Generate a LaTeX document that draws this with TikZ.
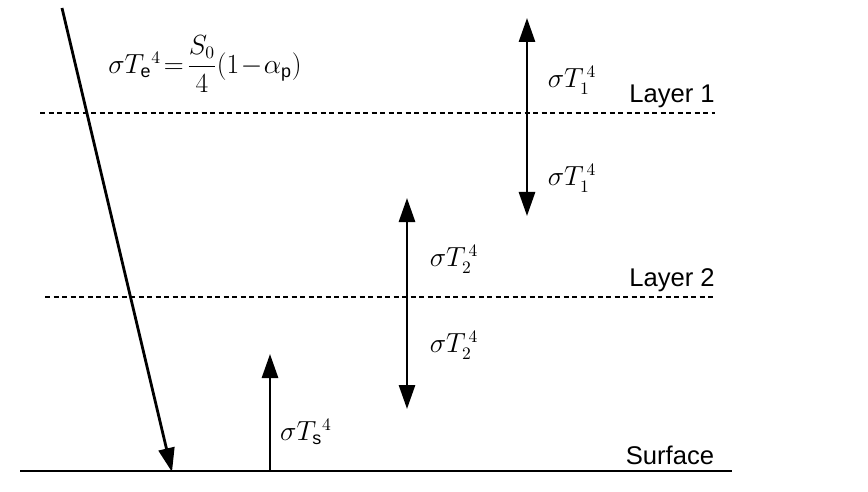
\documentclass[tikz,border=0pt]{standalone}
\usepackage{graphicx}
\usepackage{fontspec}
\setmainfont{Liberation Sans}
\usetikzlibrary{arrows.meta}
\newcommand{\bigtxt}[1]{\scalebox{1.6}{#1}}
\tikzset{
  arr/.style={line width=2.8pt,-{Triangle[length=24pt,width=16pt]}},
  lay/.style={line width=2.8pt,dash pattern=on 5pt off 3.5pt},
  lbl/.style={font=\fontsize{16}{19}\selectfont},
}
\begin{document}
\begin{tikzpicture}[x=1pt,y=-1pt]
\useasboundingbox (0,0) rectangle (868,492);
\coordinate (a0) at (62,8); \coordinate (a1) at (172,472);
\draw[arr] (a0) -- (a1);
\node[lbl] (eq) at (205,64) {\bigtxt{$\sigma T_{\mathrm e}{}^4\!=\!\displaystyle\frac{S_0}{4}(1\!-\!\alpha_{\mathrm p})$}};
\coordinate (l1a) at (40,113); \coordinate (l1b) at (715,113);
\draw[lay] (l1a) -- (l1b);
\node[lbl] (L1) at (672,96) {\bigtxt{Layer 1}};
\coordinate (c1) at (527,113); \coordinate (u1) at (527,18); \coordinate (d1) at (527,216);
\draw[arr] (c1) -- (u1); \draw[arr] (c1) -- (d1);
\node[lbl] (t1a) at (572,80) {\bigtxt{$\sigma T_1^{\,4}$}};
\node[lbl] (t1b) at (572,178) {\bigtxt{$\sigma T_1^{\,4}$}};
\coordinate (l2a) at (45,297); \coordinate (l2b) at (715,297);
\draw[lay] (l2a) -- (l2b);
\node[lbl] (L2) at (672,280) {\bigtxt{Layer 2}};
\coordinate (c2) at (407,297); \coordinate (u2) at (407,198); \coordinate (d2) at (407,409);
\draw[arr] (c2) -- (u2); \draw[arr] (c2) -- (d2);
\node[lbl] (t2a) at (454,259) {\bigtxt{$\sigma T_2^{\,4}$}};
\node[lbl] (t2b) at (454,345) {\bigtxt{$\sigma T_2^{\,4}$}};
\coordinate (s0) at (20,471); \coordinate (s1) at (732,471);
\draw[line width=2.8pt] (s0) -- (s1);
\node[lbl] (S) at (670,455) {\bigtxt{Surface}};
\coordinate (cs) at (270,471); \coordinate (us) at (270,354);
\draw[arr] (cs) -- (us);
\node[lbl] (ts) at (306,432) {\bigtxt{$\sigma T_{\mathrm s}{}^4$}};
\end{tikzpicture}
\end{document}
